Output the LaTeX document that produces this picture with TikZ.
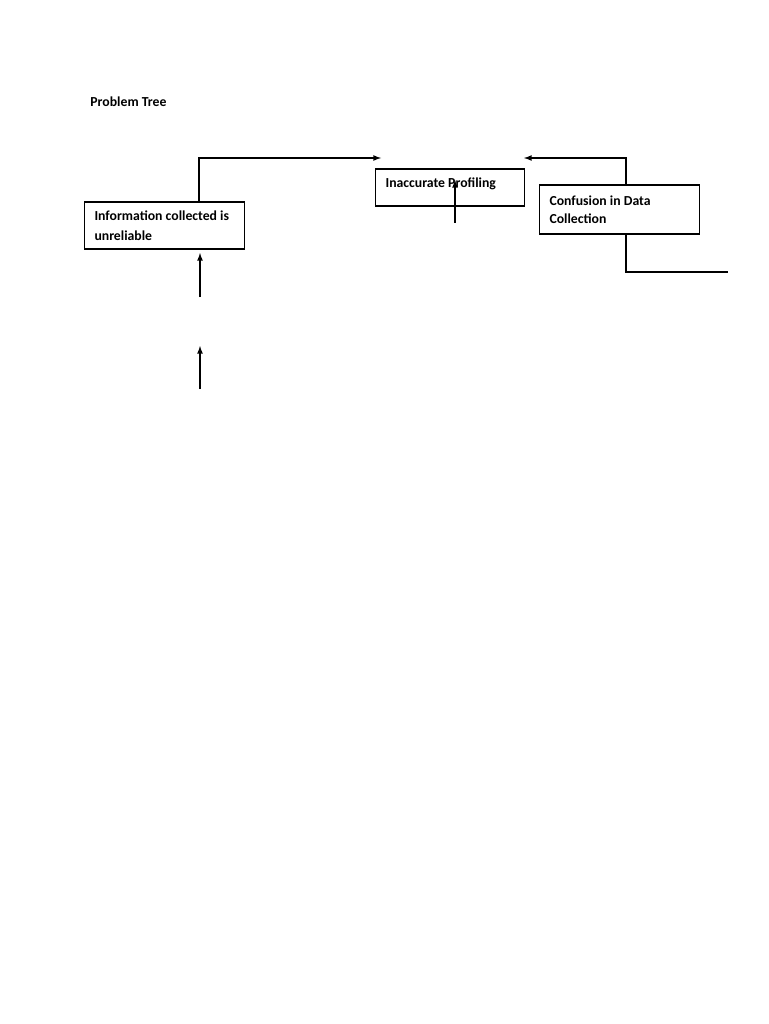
\documentclass[tikz,border=0pt]{standalone}
\usepackage{fontspec}
\setmainfont{Carlito}
\usepackage{tikz}
\usetikzlibrary{positioning}
\usetikzlibrary{arrows}

\begin{document}
\begin{tikzpicture}[x=0.8pt, y=-0.8pt, >=latex,
  problem/.style={draw, line width=1.2pt, rectangle, inner xsep=8pt, inner ysep=0pt,
    align=flush left, text width=#1, font=\bfseries\fontsize{11}{14.5}\selectfont},
  link/.style={line width=1.1pt}]

\useasboundingbox (0,0) rectangle (768,1024);

\node [anchor=west, font=\bfseries\fontsize{11}{14}\selectfont] (title) at (86,102) {Problem Tree};

\node [problem=112pt, minimum width=127.2pt, minimum height=37.6pt] (info) at (164.5,225.5) {Information collected is\\[1.5pt]unreliable};
\node [problem=103pt, minimum width=118.4pt, minimum height=29.6pt, text depth=7pt] (profiling) at (450,187.5) {Inaccurate Profiling};
\node [problem=112pt, minimum width=127.2pt, minimum height=39.2pt] (confusion) at (619.5,209.5) {Confusion in Data\\Collection};

\coordinate (turn1) at (199,158);
\coordinate (tip1) at (381,158);
\coordinate (turn2) at (626,158);
\coordinate (tip2) at (524,158);
\coordinate (turn3) at (626,272);
\coordinate (end3) at (728,272);

\draw [link,->] (info.north -| turn1) -- (turn1) -- (tip1);
\draw [link,->] (confusion.north -| turn2) -- (turn2) -- (tip2);
\draw [link] (confusion.south -| turn3) -- (turn3) -- (end3);

% arrow into profiling box
\coordinate (p0) at (455,223);
\coordinate (p1) at (455,180);
\draw [link,->] (p0) -- (p1);

% arrows under the info box
\coordinate (c0) at (200,297);
\coordinate (c1) at (200,253);
\coordinate (d0) at (200,389);
\coordinate (d1) at (200,346);
\draw [link,->] (c0) -- (c1);
\draw [link,->] (d0) -- (d1);

\end{tikzpicture}
\end{document}
